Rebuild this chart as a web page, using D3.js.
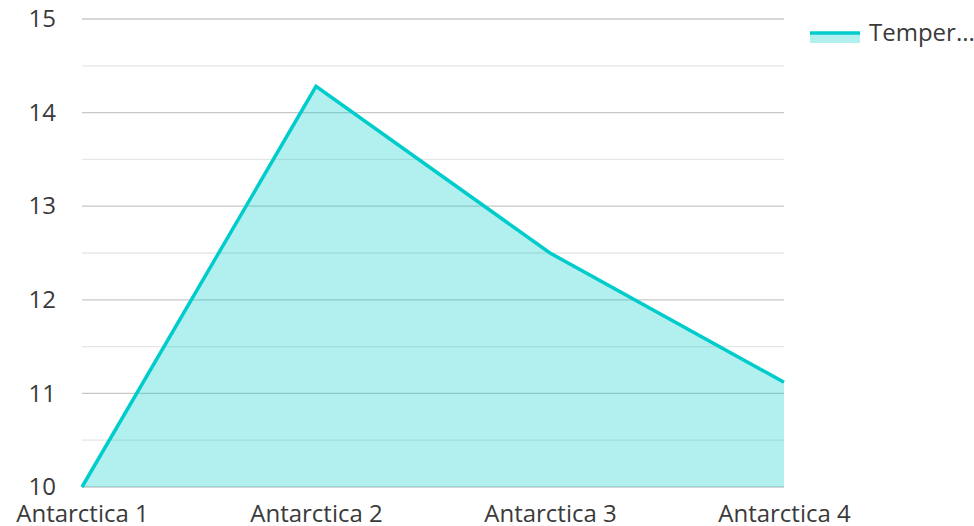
<!DOCTYPE html>
<html>
<head>
<meta charset="utf-8">
<script src="https://cdn.jsdelivr.net/npm/d3@7"></script>
<style>
  html, body { margin: 0; padding: 0; background: #fff; }
  svg { display: block; font-family: "Open Sans", "Noto Sans", sans-serif; }
</style>
</head>
<body>
<svg id="chart" width="974" height="526"></svg>
<script>
// Chart data
const categories = ["Antarctica 1", "Antarctica 2", "Antarctica 3", "Antarctica 4"];
const temperature = [10, 14.28, 12.5, 11.12];
const yTicks = [10, 11, 12, 13, 14, 15];
const seriesName = "Temperature";

const svg = d3.select("#chart");
const margin = { left: 82, right: 190, top: 19, bottom: 39 };
const W = 974, H = 526;
const fontSize = 24;
const textColor = "#3a3a3a";

const x = d3.scalePoint().domain(categories).range([margin.left, W - margin.right]);
const y = d3.scaleLinear().domain([10, 15]).range([H - margin.bottom, margin.top]);

const lineColor = "#00cccc";

// minor gridlines at half steps
const minor = d3.range(10.5, 15, 1);
svg.append("g").selectAll("line").data(minor).join("line")
  .attr("x1", margin.left).attr("x2", W - margin.right)
  .attr("y1", d => y(d)).attr("y2", d => y(d))
  .attr("stroke", "#e6e6e6").attr("stroke-width", 1.3);

// major gridlines
svg.append("g").selectAll("line").data(yTicks).join("line")
  .attr("x1", margin.left).attr("x2", W - margin.right)
  .attr("y1", d => y(d)).attr("y2", d => y(d))
  .attr("stroke", "#c8c8c8").attr("stroke-width", 1.3);

// area + line
const area = d3.area().x((d, i) => x(categories[i])).y0(y(10)).y1(d => y(d));
const line = d3.line().x((d, i) => x(categories[i])).y(d => y(d));

svg.append("path").datum(temperature).attr("d", area)
  .attr("fill", lineColor).attr("fill-opacity", 0.3);
svg.append("path").datum(temperature).attr("d", line)
  .attr("fill", "none").attr("stroke", lineColor).attr("stroke-width", 3.5)
  .attr("stroke-linejoin", "miter");

// y axis labels
const yAxis = d3.axisLeft(y).tickValues(yTicks).tickSize(0).tickPadding(26).tickFormat(d3.format("d"));
const gy = svg.append("g").attr("transform", `translate(${margin.left},0)`).call(yAxis);
gy.select(".domain").remove();
gy.selectAll("text").attr("font-size", fontSize).attr("fill", textColor).attr("font-family", "Open Sans, sans-serif");

// x axis labels
const xAxis = d3.axisBottom(x).tickSize(0).tickPadding(18);
const gx = svg.append("g").attr("transform", `translate(0,${H - margin.bottom})`).call(xAxis);
gx.select(".domain").remove();
gx.selectAll("text").attr("font-size", fontSize).attr("fill", textColor).attr("font-family", "Open Sans, sans-serif");

// legend
const lg = svg.append("g").attr("transform", "translate(810,33)");
lg.append("rect").attr("x", 0).attr("y", 0).attr("width", 50).attr("height", 10)
  .attr("fill", lineColor).attr("fill-opacity", 0.3);
lg.append("line").attr("x1", 0).attr("x2", 50).attr("y1", 0).attr("y2", 0)
  .attr("stroke", lineColor).attr("stroke-width", 3.5);
lg.append("text").attr("x", 59).attr("y", 8).attr("font-size", fontSize).attr("fill", textColor)
  .attr("font-family", "Open Sans, sans-serif")
  .text(seriesName.slice(0, 6) + "...");
</script>
</body>
</html>
